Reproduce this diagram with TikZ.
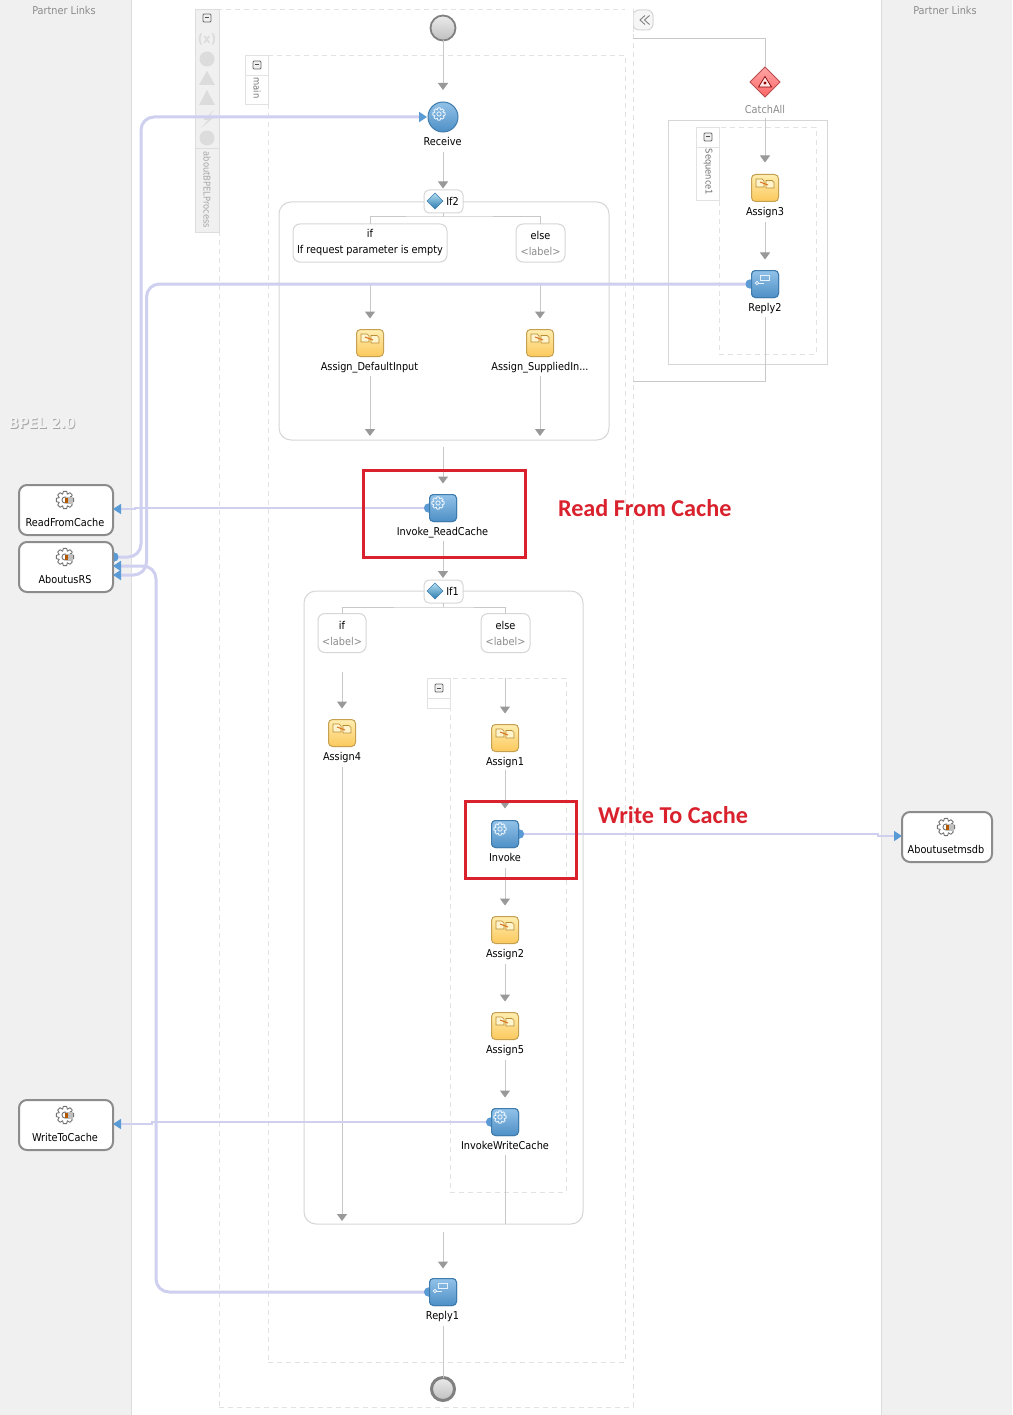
\documentclass[tikz,border=0pt]{standalone}
\usepackage{fontspec}
\setmainfont{DejaVu Sans Condensed}
\newfontfamily\callout{Carlito}
\usetikzlibrary{arrows.meta,shapes.geometric,calc}
\definecolor{panel}{HTML}{F0F0F0}
\definecolor{panelline}{HTML}{DDDDDD}
\definecolor{dashline}{HTML}{E2E2E2}
\definecolor{boxline}{HTML}{D6D6D6}
\definecolor{flowline}{HTML}{C8C8C8}
\definecolor{flowtip}{HTML}{999999}
\definecolor{plinkc}{HTML}{CFCFF0}
\definecolor{plinktip}{HTML}{5B9BD5}
\definecolor{redbox}{HTML}{D9222D}
\definecolor{ghost}{HTML}{DCDCDC}
\definecolor{muted}{HTML}{8C8C8C}
\definecolor{bluetop}{HTML}{92C2E8}
\definecolor{bluebot}{HTML}{4E8FC6}
\definecolor{blueedge}{HTML}{3F7CAE}
\definecolor{asgtop}{HTML}{FFEDB0}
\definecolor{asgbot}{HTML}{FBC95C}
\definecolor{asgedge}{HTML}{C4A050}
\definecolor{docedge}{HTML}{B98D35}
\definecolor{docfill}{HTML}{FFF4CC}
\definecolor{arrowor}{HTML}{D9701E}
\definecolor{ifdtop}{HTML}{B3DFF2}
\definecolor{ifdbot}{HTML}{2B7BAE}
\definecolor{gearw}{HTML}{E6F1FA}
\newcommand\gearicon[3]{% position, radius scale, colour
  \begin{scope}[shift={(#1)},scale=#2]
    \draw[#3,line width=.9pt,line join=round] (-34:6.2)
      \foreach \a in {0,45,...,315} { -- (\a-22:6.2) -- (\a-11:8.6) -- (\a+11:8.6) -- (\a+22:6.2) } -- cycle;
    \draw[#3,line width=.9pt] (0,0) circle (3);
  \end{scope}}
\newcommand\assignicon[1]{%
  \begin{scope}[shift={(#1)}]
    \draw[fill=docfill,draw=docedge,line width=.7pt] (-9,-9) -- (-3,-9) -- (-1,-7) -- (-1,-1) -- (-9,-1) -- cycle;
    \draw[fill=docfill,draw=docedge,line width=.7pt] (1,-7.5) -- (7,-7.5) -- (9,-5.5) -- (9,0) -- (1,0) -- cycle;
    \draw[arrowor,line width=1pt] (-5,-6) -- (3,-3);
  \end{scope}}
\newcommand\replyicon[1]{%
  \begin{scope}[shift={(#1)}]
    \draw[gearw,line width=1pt] (-5,-9) rectangle (4,-3.5);
    \draw[gearw,line width=1pt] (-1,-1) -- (-7,-1);
    \draw[white,fill=plinktip,line width=.7pt] (-8,-1) circle (1.7);
  \end{scope}}
\newcommand\partnericon[1]{%
  \begin{scope}[shift={(#1)}]
    \gearicon{0,0}{1.02}{black!55}
    \fill[black!25] (1,-3.5) rectangle (8,3.5);
    \fill[orange!70!black] (0,-2.5) rectangle (2.5,2.5);
  \end{scope}}
\newcommand\minusbtn[1]{%
  \draw[black!60,fill=black!6,line width=.8pt,rounded corners=1pt] ($(#1)+(-4,-4)$) rectangle ($(#1)+(4,4)$);
  \draw[black!70,line width=1pt] ($(#1)+(-2.3,0)$) -- ($(#1)+(2.3,0)$);}
\newcommand\ifdiamond[1]{%
  \node[diamond,minimum width=16pt,minimum height=16pt,inner sep=0,draw=blueedge,line width=.6pt,top color=ifdtop,bottom color=ifdbot] at (#1) {};}
\tikzset{
  lab/.style={inner sep=0,text height=9.5pt,text depth=.5pt,font=\fontsize{10.8pt}{12pt}\selectfont},
  flow/.style={flowline,line width=1pt,-{Triangle[width=10pt,length=7pt,color=flowtip]}},
  plain/.style={flowline,line width=1pt},
  plink/.style={plinkc,line width=3pt,rounded corners=13pt,-{Triangle[width=10pt,length=8pt,color=plinktip]}},
  plinkthin/.style={plinkc,line width=1.6pt,-{Triangle[width=10pt,length=8pt,color=plinktip]}},
  dashbox/.style={draw=dashline,line width=.8pt,inner sep=0,dash pattern=on 5pt off 4pt},
  tabbox/.style={draw=dashline,line width=.8pt,fill=white,inner sep=0},
  container/.style={draw=boxline,line width=1pt,rounded corners=12pt,inner sep=0},
  casebox/.style={draw=boxline,fill=white,line width=1pt,rounded corners=7pt,inner sep=0,align=center,font=\fontsize{10.8pt}{16pt}\selectfont},
  ifbox/.style={draw=boxline,fill=white,line width=1pt,rounded corners=5pt,inner sep=0,minimum width=39pt,minimum height=23pt},
  assignbox/.style={draw=asgedge,line width=1pt,rounded corners=4pt,minimum size=27pt,inner sep=0,top color=asgtop,bottom color=asgbot},
  bluebox/.style={draw=blueedge,line width=1pt,rounded corners=4pt,minimum size=27pt,inner sep=0,top color=bluetop,bottom color=bluebot},
  partner/.style={draw=black!45,fill=white,line width=2pt,rounded corners=8pt,inner sep=0},
  dotmark/.style={circle,fill=plinktip,inner sep=0,minimum size=9pt},
  redframe/.style={draw=redbox,line width=3pt,inner sep=0},
  calloutlab/.style={text=redbox,inner sep=0,font=\callout\bfseries\fontsize{24.2pt}{26pt}\selectfont},
  every node/.append style={outer sep=0pt},
}
\begin{document}
\begin{tikzpicture}[x=1pt,y=-1pt]
\useasboundingbox (0,0) rectangle (1012,1415);
\fill[white] (0,0) rectangle (1012,1415);
% side panels
\fill[panel] (0,0) rectangle (131,1415);
\fill[panel] (881,0) rectangle (1012,1415);
\draw[panelline] (131.5,0) -- (131.5,1415);
\draw[panelline] (881.5,0) -- (881.5,1415);
\node[lab,text=muted] (plL) at (64,10) {Partner Links};
\node[lab,text=muted] (plR) at (945,10) {Partner Links};
\node[inner sep=0,font=\bfseries\fontsize{15pt}{16pt}\selectfont,text=black!35] (bpel) at (42.8,424) {BPEL 2.0};
\node[text=black!5,inner sep=0,font=\bfseries\fontsize{15pt}{16pt}\selectfont] (bpeltop) at (42,423) {BPEL 2.0};
% scopes
\node[dashbox,minimum width=414pt,minimum height=1398pt,anchor=north west] (scope) at (219,9) {};
\node[draw=panelline,fill=panel,line width=.8pt,minimum width=24pt,minimum height=223pt,inner sep=0,anchor=north west] (scopetab) at (195,9) {};
\draw[panelline,line width=.8pt] (195,148) -- (219,148);
\minusbtn{207,18}
\node[text=ghost,inner sep=0,font=\bfseries\fontsize{13pt}{13pt}\selectfont] (scopevars) at (207,39) {(x)};
\fill[ghost] (207,59) circle (7.5);
\fill[ghost] (207,71) -- (215,85) -- (199,85) -- cycle;
\fill[ghost] (207,90) -- (215,105) -- (199,105) -- cycle;
\fill[ghost] (214,110) -- (203,120) -- (208,120) -- (201,128) -- (213,118) -- (208,118) -- cycle;
\fill[ghost] (207,138) circle (7.5);
\node[inner sep=0,rotate=-90,text=black!35,font=\fontsize{9.3pt}{10pt}\selectfont] (scopename) at (207,190) {aboutBPELProcess};
\node[draw=boxline,fill=panel!60,line width=1pt,rounded corners=6pt,minimum width=20pt,minimum height=20pt,inner sep=0] (collapse) at (643,20) {};
\fill[white] (625,9) rectangle (633.4,32);
\draw[dashline,line width=.8pt,dash pattern=on 5pt off 4pt] (633,9) -- (633,34);
\draw[black!50,line width=.9pt] (645,15.5) -- (640,20) -- (645,24.5) (649.5,15.5) -- (644.5,20) -- (649.5,24.5);
\node[dashbox,minimum width=357pt,minimum height=1307pt,anchor=north west] (mainseq) at (268,55) {};
\node[tabbox,minimum width=23pt,minimum height=49pt,anchor=north west] (maintab) at (245,55) {};
\draw[dashline,line width=.8pt] (245,75) -- (268,75);
\minusbtn{257,65}
\node[inner sep=0,rotate=-90,text=black!55,font=\fontsize{9.3pt}{10pt}\selectfont] (mainname) at (257,88) {main};
% catch branch frame
\node[draw=boxline,line width=1pt,inner sep=0,minimum width=159pt,minimum height=243pt,anchor=north west] (catchframe) at (668,121) {};
\node[dashbox,minimum width=97pt,minimum height=227pt,anchor=north west] (seq1) at (719,127) {};
\node[tabbox,minimum width=23pt,minimum height=73pt,anchor=north west] (seq1tab) at (696,127) {};
\draw[dashline,line width=.8pt] (696,147) -- (719,147);
\minusbtn{708,137}
\node[inner sep=0,rotate=-90,text=black!55,font=\fontsize{9.3pt}{10pt}\selectfont] (seq1name) at (708,172) {Sequence1};
% If containers
\node[container,minimum width=330pt,minimum height=238pt,anchor=north west] (if2box) at (279,202) {};
\node[container,minimum width=279pt,minimum height=633pt,anchor=north west] (if1box) at (304,591) {};
\node[dashbox,minimum width=116pt,minimum height=514pt,anchor=north west] (seqe) at (450,678) {};
\node[tabbox,minimum width=23pt,minimum height=30pt,anchor=north west] (seqetab) at (427,678) {};
\draw[dashline,line width=.8pt] (427,698) -- (450,698);
\minusbtn{439,688}
% header boxes
\node[ifbox] (if2) at (443.5,201.5) {};
\ifdiamond{435,201}
\node[lab] (if2l) at (452.5,201) {If2};
\node[ifbox] (if1) at (443.5,591.5) {};
\ifdiamond{435,591}
\node[lab] (if1l) at (452.5,591) {If1};
\node[casebox,minimum width=154pt,minimum height=38pt] (ifa) at (370,243) {if\\If request parameter is empty};
\node[casebox,minimum width=49pt,minimum height=38pt] (elsea) at (540.5,243) {else\\\textcolor{muted}{<label>}};
\node[casebox,minimum width=48pt,minimum height=39pt] (ifb) at (342,633) {if\\\textcolor{muted}{<label>}};
\node[casebox,minimum width=49pt,minimum height=39pt] (elseb) at (505.5,633) {else\\\textcolor{muted}{<label>}};
\draw[plain] (ifa.north) |- ([yshift=-4pt]if2.south) -| (elsea.north);
\draw[plain] (if2.south) -- ([yshift=-4pt]if2.south);
\draw[plain] (ifb.north) |- ([yshift=-4pt]if1.south) -| (elseb.north);
\draw[plain] (if1.south) -- ([yshift=-4pt]if1.south);
% activities
\node[circle,inner sep=0,minimum size=25pt,line width=1.8pt,draw=black!50,top color=black!8,bottom color=black!25] (start) at (443,28) {};
\node[circle,inner sep=0,minimum size=30pt,line width=1pt,draw=blueedge,top color=bluetop,bottom color=bluebot] (recv) at (443,117) {};
\node[lab] (recvl) at (442.5,141) {Receive};
\node[assignbox] (adi) at (370,343) {};
\node[lab] (adil) at (369.5,366) {Assign\_DefaultInput};
\node[assignbox] (asi) at (540,343) {};
\node[lab] (asil) at (540,366) {Assign\_SuppliedIn...};
\node[bluebox] (irc) at (443,508) {};
\node[lab] (ircl) at (442.5,531) {Invoke\_ReadCache};
\node[assignbox] (a4) at (342,733) {};
\node[lab] (a4l) at (342,756) {Assign4};
\node[assignbox] (a1) at (505,738) {};
\node[lab] (a1l) at (505,761) {Assign1};
\node[bluebox] (inv) at (505,834) {};
\node[lab] (invl) at (505,857) {Invoke};
\node[assignbox] (a2) at (505,930) {};
\node[lab] (a2l) at (505,953) {Assign2};
\node[assignbox] (a5) at (505,1026) {};
\node[lab] (a5l) at (505,1049) {Assign5};
\node[bluebox] (iwc) at (505,1122) {};
\node[lab] (iwcl) at (505,1145) {InvokeWriteCache};
\node[bluebox] (r1) at (443,1292) {};
\node[lab] (r1l) at (442.5,1315) {Reply1};
\node[circle,inner sep=0,minimum size=23pt,line width=3pt,draw=black!50,top color=black!8,bottom color=black!25] (endn) at (443,1389) {};
\node[diamond,inner sep=0,minimum width=30pt,minimum height=30pt,draw=red!60!black!70,line width=.8pt,top color=red!35,bottom color=red!60] (catch) at (765,82) {};
\fill[white!90!red] (765,76.5) -- (771.5,87) -- (758.5,87) -- cycle;
\draw[red!50!black,line width=.7pt] (765,76.5) -- (771.5,87) -- (758.5,87) -- cycle;
\fill[red!60!black] (765,83) circle (1.6);
\node[lab,text=muted] (catchl) at (765,109) {CatchAll};
\node[assignbox] (a3) at (765,188) {};
\node[lab] (a3l) at (765,211) {Assign3};
\node[bluebox] (r2) at (765,284) {};
\node[lab] (r2l) at (765,307) {Reply2};
% flow connectors
\draw[flow] (start.south) -- ([yshift=12pt]recv.north);
\draw[flow] ([yshift=-6pt]recv.south |- recvl.south) -- ([yshift=1.5pt]recv.south |- if2.north);
\draw[flow] ([yshift=-23pt]ifa.south) -- ([yshift=11pt]adi.north);
\draw[flow] ([yshift=-23pt]asi.north |- elsea.south) -- ([yshift=11pt]asi.north);
\draw[flow] ([yshift=-5pt]adi.south |- adil.south) -- ([yshift=4pt]adi.south |- if2box.south);
\draw[flow] ([yshift=-5pt]asil.south) -- ([yshift=4pt]asil.south |- if2box.south);
\draw[flow] ([yshift=-7pt]irc.north |- if2box.south) -- ([yshift=11pt]irc.north);
\draw[flow] ([yshift=-5pt]irc.south |- ircl.south) -- ([yshift=2pt]irc.south |- if1.north);
\draw[flow] ([yshift=-19pt]ifb.south) -- ([yshift=11pt]a4.north);
\draw[flow] ([yshift=-25pt]a1.north |- elseb.south) -- ([yshift=11pt]a1.north);
\draw[flow] ([yshift=-6pt]a4l.south) -- ([yshift=3pt]a4l.south |- if1box.south);
\draw[flow] ([yshift=-4pt]a1l.south) -- ([yshift=12pt]inv.north);
\draw[flow] ([yshift=-6pt]invl.south) -- ([yshift=11pt]a2.north);
\draw[flow] ([yshift=-6pt]a2l.south) -- ([yshift=11pt]a5.north);
\draw[flow] ([yshift=-6pt]a5l.south) -- ([yshift=11pt]iwc.north);
\draw[plain] ([yshift=-5pt]iwcl.south) -- (iwcl.south |- if1box.south);
\draw[flow] ([yshift=-8pt]r1.north |- if1box.south) -- ([yshift=10pt]r1.north);
\draw[plain] ([yshift=-6pt]r1.south |- r1l.south) -- (endn.north);
\coordinate (c1) at (633,38.5);
\coordinate (c2) at (633,381);
\draw[plain] (c1) -| (catch.north);
\draw[flow] ([yshift=-4pt]catchl.south) -- ([yshift=12pt]a3.north);
\draw[flow] ([yshift=-6pt]a3l.south) -- ([yshift=11pt]r2.north);
\draw[plain] ([yshift=-5pt]r2l.south) |- (c2);
% partner link boxes
\node[dotmark] (d1) at (114,557) {};
\node[dotmark] (d2) at (750,284) {};
\node[dotmark] (d3) at (428.5,1292) {};
\node[dotmark] (d4) at (428.5,508) {};
\node[dotmark] (d5) at (519.5,834) {};
\node[dotmark] (d6) at (490.5,1122) {};
\node[partner,minimum width=94pt,minimum height=50pt] (prc) at (66,510) {};
\node[partner,minimum width=94pt,minimum height=50pt] (pwc) at (66,1125) {};
\node[partner,minimum width=90pt,minimum height=50pt] (pdb) at (947,837) {};
\node[lab] (prcl) at (65,522) {ReadFromCache};
\node[lab] (pwcl) at (65,1137) {WriteToCache};
\node[lab] (pdbl) at (946,849) {Aboutusetmsdb};
\partnericon{65,500}
\partnericon{65,1115}
\partnericon{946,827}
% partner links
\coordinate (k1) at (141,117);
\coordinate (k2) at (146.5,284);
\coordinate (k3) at (156,1292);
\coordinate (k5) at (152,1124);
\coordinate (k6) at (878,836);
\coordinate (k4) at (135,509);
\node[partner,minimum width=94pt,minimum height=50pt] (pab) at (66,567) {};
\draw[plink] (d1.center) -| (k1) -- ([xshift=-1pt]recv.west);
\draw[plink] (d2.center) -| ([yshift=-8pt]k2 |- pab.east) -- ([yshift=-8pt]pab.east);
\draw[plink] (d3.center) -| ([yshift=1pt]k3 |- pab.east) -- ([yshift=1pt]pab.east);
\draw[plinkthin] (d4.center) -| (k4) -- ([yshift=1pt]prc.east);
\draw[plinkthin] (d5.center) -| (k6) -- ([yshift=1pt]pdb.west);
\draw[plinkthin] (d6.center) -| (k5) -- ([yshift=1pt]pwc.east);
\foreach \n in {d2,d3,d4,d5,d6} \fill[plinktip] (\n) circle (4.5);
\fill[plinktip] (d1.center) ++(0,-4.5) arc[start angle=90,end angle=-90,radius=4.5pt] -- cycle;
\node[lab] (pabl) at (65,579) {AboutusRS};
\partnericon{65,557}
% redraw elements that sit above the links
\node[bluebox] at (765,284) {};
\node[bluebox] at (443,1292) {};
\node[bluebox] at (443,508) {};
\node[bluebox] at (505,834) {};
\node[bluebox] at (505,1122) {};
% icons
\assignicon{370,343}
\assignicon{540,343}
\assignicon{342,733}
\assignicon{505,738}
\assignicon{505,930}
\assignicon{505,1026}
\assignicon{765,188}
\gearicon{439,114}{.72}{gearw}
\gearicon{438,503}{.72}{gearw}
\gearicon{500,829}{.72}{gearw}
\gearicon{500,1117}{.72}{gearw}
\replyicon{765,284}
\replyicon{443,1292}
% red callouts
\node[redframe,minimum width=162pt,minimum height=87pt,anchor=north west] (rf1) at (363,470.5) {};
\node[redframe,minimum width=111pt,minimum height=77pt,anchor=north west] (rf2) at (465,801) {};
\node[calloutlab,anchor=west] (rt1) at (558,508) {Read From Cache};
\node[calloutlab,anchor=west] (rt2) at (598,815) {Write To Cache};
\end{tikzpicture}
\end{document}
